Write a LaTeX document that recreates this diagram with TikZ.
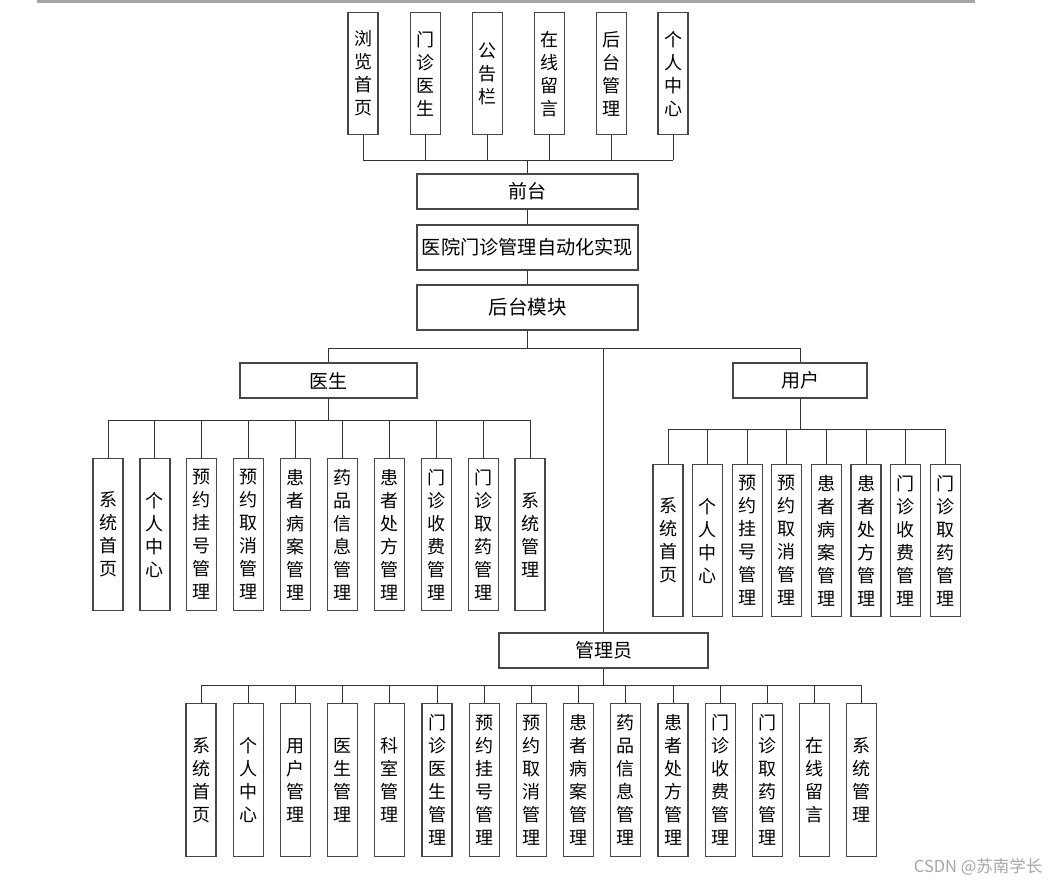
\documentclass[tikz,border=0pt]{standalone}
\usepackage{fontspec}
\newfontfamily\cjk{Noto Sans CJK SC}
\usetikzlibrary{positioning,calc}
\definecolor{cLine}{HTML}{333333}
\definecolor{cBox}{HTML}{474747}
\definecolor{cMark}{HTML}{A6A6A6}
\tikzset{
  box/.style={draw=cBox,line width=1.3pt,fill=white,inner sep=0pt,font=\cjk\fontsize{19}{20}\selectfont},
  vbox/.style={box,anchor=north,minimum width=30pt,align=center,font=\cjk\fontsize{18}{23}\selectfont},
  link/.style={draw=cLine,line width=1pt},
}
\begin{document}
\begin{tikzpicture}[x=1pt,y=-1pt]
  \useasboundingbox (0,0) rectangle (1062,884);
  \draw[cMark,line width=2.6pt] (37,1.5) -- (975,1.5);
  \foreach \x/\lbl [count=\i] in {363/浏\\览\\首\\页,425.5/门\\诊\\医\\生,487.5/公\\告\\栏,549.5/在\\线\\留\\言,611.5/后\\台\\管\\理,673/个\\人\\中\\心}
    \node[vbox,minimum height=122pt] (t\i) at (\x,12) {\lbl};
  \node[box,minimum width=221pt,minimum height=35pt] (front) at (527.5,191.5) {前台};
  \node[box,minimum width=221pt,minimum height=45pt,font=\cjk\fontsize{19.2}{20}\selectfont] (sys) at (527.5,247.5) {医院门诊管理自动化实现};
  \node[box,minimum width=221pt,minimum height=45pt,font=\cjk\fontsize{19.5}{20}\selectfont] (back) at (527.5,307.5) {后台模块};
  \coordinate (tbus) at (0,160);
  \foreach \i in {1,...,6} \draw[link] (t\i.south) -- (t\i.south |- tbus);
  \draw[link] (t1.south |- tbus) -- (t6.south |- tbus);
  \draw[link] (front.north |- tbus) -- (front.north);
  \draw[link] (front) -- (sys);
  \draw[link] (sys) -- (back);
  \node[box,minimum width=177pt,minimum height=35pt] (doc) at (328.5,380.5) {医生};
  \node[box,minimum width=134pt,minimum height=35pt] (usr) at (800,380.5) {用户};
  \node[box,minimum width=209pt,minimum height=35pt] (adm) at (603.5,650.5) {管理员};
  \coordinate (mbus) at (0,348);
  \draw[link] (back.south) -- (back.south |- mbus);
  \draw[link] (doc.north |- mbus) -- (usr.north |- mbus);
  \draw[link] (doc.north |- mbus) -- (doc.north);
  \draw[link] (usr.north |- mbus) -- (usr.north);
  \draw[link] (adm.north |- mbus) -- (adm.north);
  \def\dx{46.9}\def\ux{39.6}\def\ax{47.2}
  \foreach \lbl [count=\i] in {系\\统\\首\\页,个\\人\\中\\心,预\\约\\挂\\号\\管\\理,预\\约\\取\\消\\管\\理,患\\者\\病\\案\\管\\理,药\\品\\信\\息\\管\\理,患\\者\\处\\方\\管\\理,门\\诊\\收\\费\\管\\理,门\\诊\\取\\药\\管\\理,系\\统\\管\\理}
    \node[vbox,minimum height=152pt] (d\i) at ({108+(\i-1)*\dx},458) {\lbl};
  \coordinate (dbus) at (0,420);
  \foreach \i in {1,...,10} \draw[link] (d\i.north) -- (d\i.north |- dbus);
  \draw[link] (d1.north |- dbus) -- (d10.north |- dbus);
  \draw[link] (doc.south) -- (doc.south |- dbus);
  \foreach \lbl [count=\i] in {系\\统\\首\\页,个\\人\\中\\心,预\\约\\挂\\号\\管\\理,预\\约\\取\\消\\管\\理,患\\者\\病\\案\\管\\理,患\\者\\处\\方\\管\\理,门\\诊\\收\\费\\管\\理,门\\诊\\取\\药\\管\\理}
    \node[vbox,minimum height=152pt] (u\i) at ({668+(\i-1)*\ux},464) {\lbl};
  \coordinate (ubus) at (0,429);
  \foreach \i in {1,...,8} \draw[link] (u\i.north) -- (u\i.north |- ubus);
  \draw[link] (u1.north |- ubus) -- (u8.north |- ubus);
  \draw[link] (usr.south) -- (usr.south |- ubus);
  \foreach \lbl [count=\i] in {系\\统\\首\\页,个\\人\\中\\心,用\\户\\管\\理,医\\生\\管\\理,科\\室\\管\\理,门\\诊\\医\\生\\管\\理,预\\约\\挂\\号\\管\\理,预\\约\\取\\消\\管\\理,患\\者\\病\\案\\管\\理,药\\品\\信\\息\\管\\理,患\\者\\处\\方\\管\\理,门\\诊\\收\\费\\管\\理,门\\诊\\取\\药\\管\\理,在\\线\\留\\言,系\\统\\管\\理}
    \node[vbox,minimum height=153pt] (a\i) at ({201+(\i-1)*\ax},703) {\lbl};
  \coordinate (abus) at (0,685);
  \foreach \i in {1,...,15} \draw[link] (a\i.north) -- (a\i.north |- abus);
  \draw[link] (a1.north |- abus) -- (a15.north |- abus);
  \draw[link] (adm.south) -- (adm.south |- abus);
  \node[font=\cjk\fontsize{16.5}{16}\selectfont,text=cMark,anchor=east] (mark) at (1046,867) {CSDN @苏南学长};
\end{tikzpicture}
\end{document}
